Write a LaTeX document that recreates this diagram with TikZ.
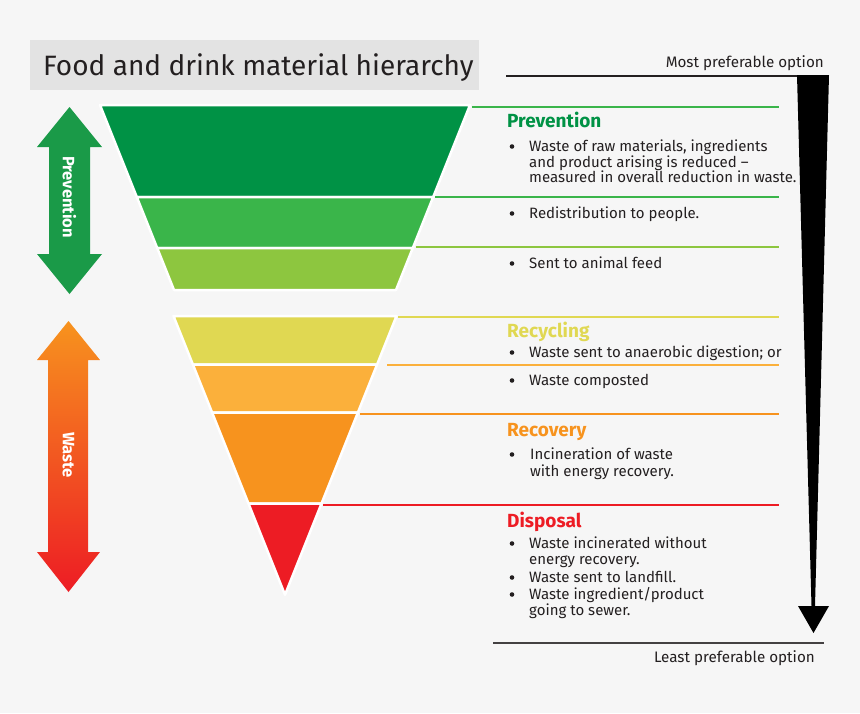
\documentclass[tikz,border=0pt]{standalone}
\usepackage{fontspec}
\setmainfont{Fira Sans}
\definecolor{bg}{HTML}{F6F6F6}
\definecolor{titlebg}{HTML}{E3E3E3}
\definecolor{gA}{HTML}{009245}
\definecolor{gB}{HTML}{3AB54A}
\definecolor{gC}{HTML}{8DC63F}
\definecolor{yD}{HTML}{E0D852}
\definecolor{oE}{HTML}{FBB03B}
\definecolor{oF}{HTML}{F7931E}
\definecolor{rG}{HTML}{ED1C24}
\definecolor{garrow}{HTML}{1A9A48}
\definecolor{ink}{HTML}{231F20}
\begin{document}
\begin{tikzpicture}[x=1pt,y=-1pt,
  band/.style={draw=white,line width=2.5pt,line join=round},
  rule/.style={line width=1.3pt},
  body/.style={font=\fontsize{15}{17}\selectfont,text=ink,inner sep=0pt,anchor=base west},
  bul/.style={circle,fill=ink,inner sep=0pt,minimum size=4.6pt},
  head/.style={font=\fontsize{19}{22}\selectfont\bfseries,inner sep=0pt,anchor=base west},
  side/.style={font=\fontsize{15.2}{17}\selectfont,text=ink,inner sep=0pt,anchor=base east},
  vlab/.style={font=\fontsize{16.5}{18}\selectfont\bfseries,text=white,inner sep=0pt,rotate=-90}]
\useasboundingbox (0,0) rectangle (860,713);
\fill[bg] (0,0) rectangle (860,713);
% title
\fill[titlebg] (30,40) rectangle (479,90);
\node[font=\fontsize{28}{30}\selectfont,text=ink,inner sep=0pt,anchor=base west] (title) at (43,75) {Food and drink material hierarchy};
% funnel corners
\coordinate (a1) at (100,105); \coordinate (b1) at (470,105);
\coordinate (a2) at (136.8,197); \coordinate (b2) at (433.2,197);
\coordinate (a3) at (157.2,248); \coordinate (b3) at (412.8,248);
\coordinate (a4) at (174,290); \coordinate (b4) at (396,290);
\coordinate (c1) at (173.5,316); \coordinate (d1) at (396.5,316);
\coordinate (c2) at (192.9,364.5); \coordinate (d2) at (377.1,364.5);
\coordinate (c3) at (212.1,412.5); \coordinate (d3) at (357.9,412.5);
\coordinate (c4) at (248.5,503.5); \coordinate (d4) at (321.5,503.5);
\coordinate (apex) at (285,594.75);
\fill[gA] (a1)--(b1)--(b2)--(a2)--cycle; \draw[band] (a1)--(b1)--(b2)--(a2)--cycle;
\fill[gB] (a2)--(b2)--(b3)--(a3)--cycle; \draw[band] (a2)--(b2)--(b3)--(a3)--cycle;
\fill[gC] (a3)--(b3)--(b4)--(a4)--cycle; \draw[band] (a3)--(b3)--(b4)--(a4)--cycle;
\fill[yD] (c1)--(d1)--(d2)--(c2)--cycle; \draw[band] (c1)--(d1)--(d2)--(c2)--cycle;
\fill[oE] (c2)--(d2)--(d3)--(c3)--cycle; \draw[band] (c2)--(d2)--(d3)--(c3)--cycle;
\fill[oF] (c3)--(d3)--(d4)--(c4)--cycle; \draw[band] (c3)--(d3)--(d4)--(c4)--cycle;
\fill[rG] (c4)--(d4)--(apex)--cycle; \draw[band] (c4)--(d4)--(apex)--cycle;
% rules to the right
\coordinate (l1s) at (472,107); \coordinate (l1e) at (779,107);
\coordinate (l2s) at (435,197); \coordinate (l2e) at (779,197);
\coordinate (l3s) at (416,247); \coordinate (l3e) at (779,247);
\coordinate (l4s) at (398,317); \coordinate (l4e) at (779,317);
\coordinate (l5s) at (387,365); \coordinate (l5e) at (779,365);
\coordinate (l6s) at (360,414); \coordinate (l6e) at (779,414);
\coordinate (l7s) at (323,505); \coordinate (l7e) at (779,505);
\draw[rule,gB] (l1s)--(l1e);
\draw[rule,gB] (l2s)--(l2e);
\draw[rule,gC] (l3s)--(l3e);
\draw[rule,yD] (l4s)--(l4e);
\draw[rule,oE] (l5s)--(l5e);
\draw[rule,oF] (l6s)--(l6e);
\draw[rule,rG] (l7s)--(l7e);
% texts
\node[head,text=gA] (hprev) at (507,127) {Prevention};
\node[bul] (b1a) at (512,146.5) {};
\node[body] (t1a) at (529,151) {Waste of raw materials, ingredients};
\node[body] (t1b) at (529,167) {and product arising is reduced –};
\node[body] (t1c) at (529,182) {measured in overall reduction in waste.};
\node[bul] (b2a) at (512,213.5) {};
\node[body] (t2a) at (529,218) {Redistribution to people.};
\node[bul] (b3a) at (512,263.5) {};
\node[body] (t3a) at (529,268) {Sent to animal feed};
\node[head,text=yD] (hrec) at (507,337) {Recycling};
\node[bul] (b4a) at (512,352.5) {};
\node[body] (t4a) at (529,357) {Waste sent to anaerobic digestion; or};
\node[bul] (b5a) at (512,380.5) {};
\node[body] (t5a) at (529,385) {Waste composted};
\node[head,text=oF] (hrcv) at (507,436) {Recovery};
\node[bul] (b6a) at (512,454.5) {};
\node[body] (t6a) at (530,459) {Incineration of waste};
\node[body] (t6b) at (530,476) {with energy recovery.};
\node[head,text=rG] (hdis) at (507,527) {Disposal};
\node[bul] (b7a) at (512,543.5) {};
\node[body] (t7a) at (529,548) {Waste incinerated without};
\node[body] (t7b) at (529,564) {energy recovery.};
\node[bul] (b7c) at (512,577.5) {};
\node[body] (t7c) at (529,582) {Waste sent to landfill.};
\node[bul] (b7d) at (512,594.5) {};
\node[body] (t7d) at (529,599) {Waste ingredient/product};
\node[body] (t7e) at (529,615) {going to sewer.};
% preference scale
\node[side] (most) at (824,67) {Most preferable option};
\node[side] (least) at (815,662) {Least preferable option};
\coordinate (topL) at (506,76); \coordinate (barL) at (797,76);
\draw[line width=2pt,ink] (topL)--(barL);
\coordinate (botL) at (493,643); \coordinate (botR) at (824,643);
\draw[line width=2pt,ink!85] (botL)--(botR);
\fill[black] (797,75)--(829,75)--(815,606)--(829,606)--(813.5,633)--(798,606)--(811.5,606)--cycle;
% left arrows
\fill[garrow] (69.5,107)--(102,147)--(90,147)--(90,254)--(102,254)--(69.5,294)--(37,254)--(49,254)--(49,147)--(37,147)--cycle;
\node[vlab] (vprev) at (69.5,197) {Prevention};
\shade[top color=oF,middle color=oE!85!oF,bottom color=rG] (68.5,321)--(100,360)--(88,360)--(88,552)--(100,552)--(68.5,592)--(37,552)--(48,552)--(48,360)--(37,360)--cycle;
\node[vlab] (vwaste) at (68.5,455) {Waste};
\end{tikzpicture}
\end{document}
